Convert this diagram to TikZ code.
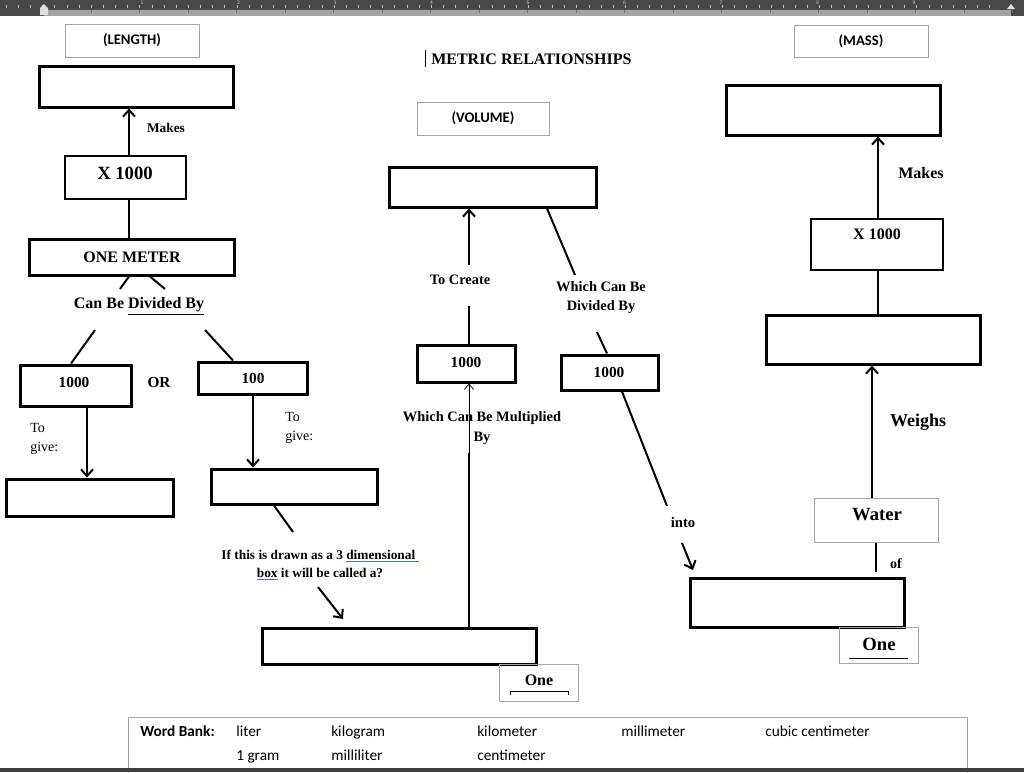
\documentclass[tikz,border=0pt]{standalone}
\usepackage{fontspec}
\setmainfont{Liberation Serif}
\newfontfamily\carl{Carlito}
\usetikzlibrary{arrows.meta,fit,calc}
\definecolor{boxgray}{HTML}{A6A6A6}
\definecolor{ulblue}{HTML}{4472C4}
\definecolor{rulerdark}{HTML}{474747}
\definecolor{rulerlight}{HTML}{A3A3A3}
\newcommand\fsz[2]{\fontsize{#1}{#2}\selectfont}
\newsavebox\ulbox
\newcommand\blueul[1]{\sbox\ulbox{#1}\rlap{\textcolor{ulblue}{\rule[-2.2pt]{\wd\ulbox}{0.9pt}}}\usebox\ulbox}
\tikzset{
  thickbox/.style={draw=black, line width=2.25pt, inner sep=0pt},
  thinbox/.style={draw=boxgray, line width=0.75pt, inner sep=0pt},
  blackthin/.style={draw=black, line width=1pt, inner sep=0pt},
  conn/.style={line width=1.5pt},
  arr/.style={line width=1.5pt, -{Straight Barb[length=5pt,width=9pt]}},
  thinarr/.style={line width=0.6pt, -{Straight Barb[length=4pt,width=7pt]}},
  lbl/.style={font=\bfseries\fsz{10.8}{14.25}, inner sep=0pt, align=center},
  cal/.style={font=\carl\bfseries\fsz{11}{13}},
}
\begin{document}
\begin{tikzpicture}[x=0.75pt,y=-0.75pt]
\useasboundingbox (0,0) rectangle (1024,772);
\fill[white] (0,0) rectangle (1024,772);
% ruler
\fill[rulerdark] (0,0) rectangle (1024,16);
\fill[rulerlight] (44,10) rectangle (1011,16);
\foreach \i in {0,...,82} {\draw[line width=0.35pt, color=black!25] ({-6+\i*12.14},5) -- ({-6+\i*12.14},8);}
\foreach \i in {0,...,19} {\draw[line width=0.35pt, color=black!55] ({91+\i*48.5},10) -- ({91+\i*48.5},13);}
\foreach \i in {1,...,9} {\node[font=\sffamily\fsz{4}{5}, text=black!20, inner sep=0pt] (rn\i) at ({142+(\i-1)*96.5},3) {\i};}
\fill[black!12] (40,8) -- (44,4) -- (48,8) -- (48,15) -- (40,15) -- cycle;
\fill[black!12] (1007,9) -- (1011,4) -- (1015,9) -- cycle;

% title
\coordinate (cur1) at (425,50);
\coordinate (cur2) at (425,67);
\draw[line width=0.75pt] (cur1) -- (cur2);
\node[anchor=west, font=\bfseries\fsz{12}{14}, inner sep=0pt] (title) at (431,59) {METRIC RELATIONSHIPS};

% headers
\node[thinbox, cal, fit={(65,24) (199,57)}] (hlen) {};
\node[cal, inner sep=0pt] (hlent) at (hlen.center) {(LENGTH)};
\node[thinbox, fit={(417,102) (549,135)}] (hvol) {};
\node[cal, inner sep=0pt] (hvolt) at (hvol.center) {(VOLUME)};
\node[thinbox, fit={(794,25) (928,57)}] (hmass) {};
\node[cal, inner sep=0pt] (hmasst) at (hmass.center) {(MASS)};

% ===== LENGTH =====
\node[thickbox, fit={(39,66) (233,107)}] (topL) {};
\node[lbl, font=\bfseries\fsz{10}{12}] (makesL) at (166,128) {Makes};
\node[blackthin, fit={(65,156) (186,199)}] (x1000L) {};
\node[lbl, font=\bfseries\fsz{14}{16}] (x1000Lt) at (125,173) {X 1000};
\node[thickbox, fit={(29,239) (234,275)}] (meter) {};
\node[lbl, font=\bfseries\fsz{12}{14}] (metert) at (132,257) {ONE METER};
\node[lbl, font=\bfseries\fsz{12}{14}] (divL) at (139,306) {Can Be \underline{Divided By}};
\node[thickbox, fit={(20,365) (131,406)}] (b1000L) {};
\node[lbl, font=\bfseries\fsz{11.5}{13}] (b1000Lt) at (74,382) {1000};
\node[lbl, font=\bfseries\fsz{11.5}{13}] (orL) at (159,382) {OR};
\node[thickbox, fit={(198,362) (307,394)}] (b100) {};
\node[lbl, font=\bfseries\fsz{11.5}{13}] (b100t) at (253,378) {100};
\node[thickbox, fit={(6,479) (173,516)}] (ansL1) {};
\node[thickbox, fit={(211,469) (377,504)}] (ansL2) {};
\node[anchor=west, align=left, inner sep=0pt, font=\fsz{10.5}{14.25}] (giveL) at (30,439) {To\\give:};
\node[anchor=west, align=left, inner sep=0pt, font=\fsz{10.5}{14.25}] (giveR) at (285,428) {To\\give:};
\node[lbl, font=\bfseries\fsz{10}{13.5}] (quest) at (320,565) {If this is drawn as a 3 \blueul{dimensional\ }\\\blueul{box} it will be called a?};
\node[thickbox, fit={(262,628) (536,664)}] (cube) {};
\node[thinbox, fit={(499,664) (578,701)}] (oneC) {};
\node[lbl, font=\bfseries\fsz{12}{14}] (oneCt) at (539,680) {One};
\coordinate (brA) at (510,695);
\coordinate (brB) at (568,695);
\draw[line width=0.75pt] (brA) -- ++(0,-4) -- ($(brB)+(0,-4)$) -- (brB);

\coordinate (xa) at (129,0);
\draw[arr] (x1000L.north -| xa) -- (topL.south -| xa);
\draw[conn] (x1000L.south -| xa) -- (meter.north -| xa);
\coordinate (xm1) at (129,0);
\coordinate (m1) at (120,289);
\coordinate (xm2) at (150,0);
\coordinate (m2) at (165,289);
\draw[conn] (meter.south -| xm1) -- (m1);
\draw[conn] (meter.south -| xm2) -- (m2);
\coordinate (d1) at (95,330);
\coordinate (xd1) at (71,0);
\draw[conn] (d1) -- (b1000L.north -| xd1);
\coordinate (d2) at (205,330);
\coordinate (xd2) at (233,0);
\draw[conn] (d2) -- (b100.north -| xd2);
\coordinate (xg1) at (87,0);
\draw[arr] (b1000L.south -| xg1) -- (ansL1.north -| xg1);
\coordinate (xg2) at (253,0);
\draw[arr] (b100.south -| xg2) -- (ansL2.north -| xg2);
\coordinate (xq1) at (274,0);
\coordinate (q1) at (293,532);
\draw[conn] (ansL2.south -| xq1) -- (q1);
\coordinate (q2) at (318,587);
\coordinate (q3) at (343,619);
\draw[arr] (q2) -- (q3);

% ===== VOLUME =====
\node[thickbox, fit={(389,167) (596,207)}] (volTop) {};
\node[lbl] (create) at (460,280) {To Create};
\node[thickbox, fit={(417,345) (515,382)}] (c1000) {};
\node[lbl, font=\bfseries\fsz{11.5}{13}] (c1000t) at (466,362) {1000};
\coordinate (tc1) at (469,306);
\coordinate (tc2) at (469,265);
\draw[conn] (c1000.north -| tc1) -- (tc1);
\draw[arr] (tc2) -- (volTop.south -| tc2);
\coordinate (mm) at (469,453);
\draw[conn] (cube.north -| mm) -- (mm);
\draw[thinarr] (mm) -- (c1000.south -| mm);
\node[lbl, font=\bfseries\fsz{10.8}{15}] (mult) at (482,428) {Which Can Be Multiplied\\By};
\node[lbl] (divR) at (601,298) {Which Can Be\\Divided By};
\node[thickbox, fit={(561,355) (658,390)}] (r1000) {};
\node[lbl, font=\bfseries\fsz{11.5}{13}] (r1000t) at (609,372) {1000};
\coordinate (xv1) at (547,0);
\coordinate (v1) at (575,275);
\draw[conn] (volTop.south -| xv1) -- (v1);
\coordinate (v2) at (597,332);
\coordinate (xv2) at (607,0);
\draw[conn] (v2) -- (r1000.north -| xv2);
\coordinate (xv3) at (622,0);
\coordinate (v3) at (667,506);
\draw[conn] (r1000.south -| xv3) -- (v3);
\node[lbl, font=\bfseries\fsz{11}{13}] (into) at (683,522) {into};
\coordinate (v4) at (682,543);
\coordinate (v5) at (693,570);
\draw[arr] (v4) -- (v5);
\node[thickbox, fit={(690,578) (904,627)}] (liter) {};
\node[thinbox, fit={(839,627) (918,663)}] (oneR) {};
\node[lbl, font=\bfseries\fsz{14}{16}] (oneRt) at (879,644) {One};
\coordinate (ul1) at (849,658);
\coordinate (ul2) at (908,658);
\draw[line width=0.75pt] (ul1) -- (ul2);

% ===== MASS =====
\node[thickbox, fit={(726,85) (940,135)}] (massTop) {};
\node[lbl, font=\bfseries\fsz{12}{14}] (makesR) at (921,173) {Makes};
\node[draw=black, line width=1.1pt, inner sep=0pt, fit={(811,219) (943,270)}] (x1000R) {};
\node[lbl, font=\bfseries\fsz{12}{14}] (x1000Rt) at (877,234) {X 1000};
\node[thickbox, fit={(766,315) (980,364)}] (gram) {};
\node[lbl, font=\bfseries\fsz{13.5}{16}] (weighs) at (918,422) {Weighs};
\node[thinbox, fit={(814,498) (938,542)}] (water) {};
\node[lbl, font=\bfseries\fsz{14}{16}] (watert) at (877,515) {Water};
\node[lbl, font=\bfseries\fsz{10.5}{12}] (of) at (896,564) {of};
\coordinate (xr1) at (878,0);
\draw[arr] (x1000R.north -| xr1) -- (massTop.south -| xr1);
\draw[conn] (x1000R.south -| xr1) -- (gram.north -| xr1);
\coordinate (xr2) at (872,0);
\draw[arr] (water.north -| xr2) -- (gram.south -| xr2);
\coordinate (xr3) at (876,0);
\coordinate (r3) at (876,572);
\draw[conn] (water.south -| xr3) -- (r3);

% ===== WORD BANK =====
\node[thinbox, fit={(128,717) (967,775)}] (bank) {};
\node[anchor=base west, font=\carl\bfseries\fsz{11.5}{13}, inner sep=0pt] (wb) at (140,736) {Word Bank:};
\tikzset{wbw/.style={anchor=base west, font=\carl\fsz{11.5}{13}, inner sep=0pt}}
\node[wbw] (w1) at (236,736) {liter};
\node[wbw] (w2) at (331,736) {kilogram};
\node[wbw] (w3) at (477,736) {kilometer};
\node[wbw] (w4) at (621,736) {millimeter};
\node[wbw] (w5) at (765,736) {cubic centimeter};
\node[wbw] (w6) at (236,760) {1 gram};
\node[wbw] (w7) at (331,760) {milliliter};
\node[wbw] (w8) at (477,760) {centimeter};
\fill[black!75] (0,768) rectangle (1024,772);
\end{tikzpicture}
\end{document}
